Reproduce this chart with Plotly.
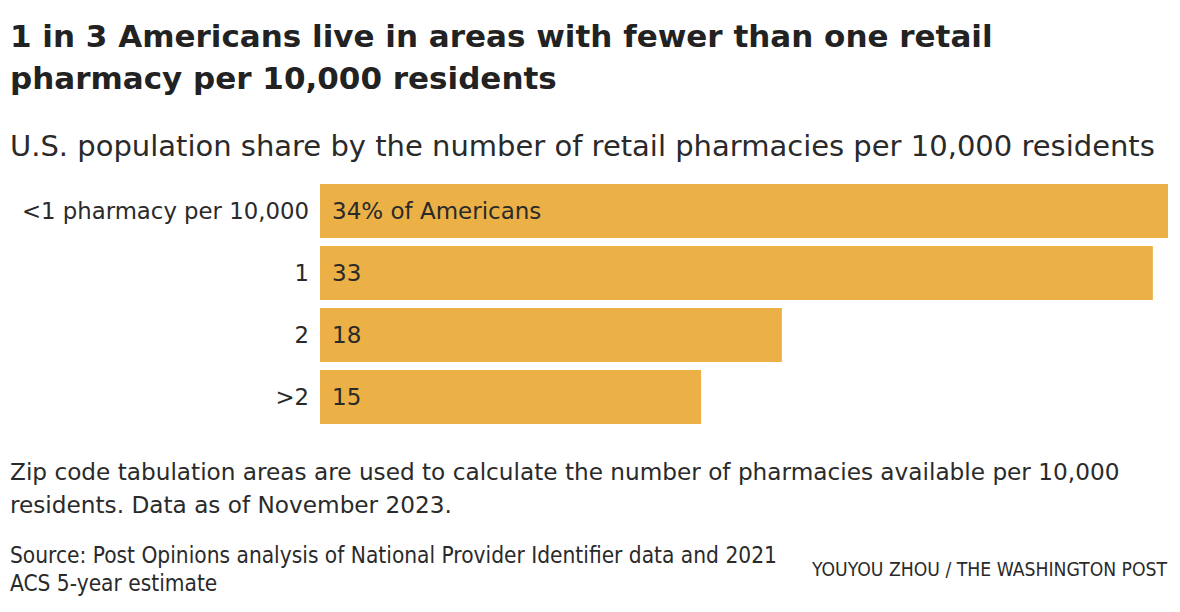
import plotly.graph_objects as go

categories = ["<1 pharmacy per 10,000", "1", "2", ">2"]
shares = [33.6, 33.0, 18.3, 15.1]
bar_labels = ["34% of Americans", "33", "18", "15"]

title_lines = ["1 in 3 Americans live in areas with fewer than one retail",
               "pharmacy per 10,000 residents"]
subtitle = "U.S. population share by the number of retail pharmacies per 10,000 residents"
note_lines = ["Zip code tabulation areas are used to calculate the number of pharmacies available per 10,000",
              "residents. Data as of November 2023."]
source_lines = ["Source: Post Opinions analysis of National Provider Identifier data and 2021",
                "ACS 5-year estimate"]
credit = "YOUYOU ZHOU / THE WASHINGTON POST"

W, H = 1180, 612
PT, PB = 180, 428  # plot area top/bottom in px
ML, MR = 320, 12

def py(p):
    return (PB - p) / (PB - PT)

def px(p):
    return (p - ML) / (W - ML - MR)

TXT = "#2a2a2a"
F = "DejaVu Sans"
FC = "DejaVu Sans Condensed"
fig = go.Figure()
fig.add_trace(go.Bar(
    x=shares, y=categories, orientation="h",
    marker=dict(color="#ebb146", line=dict(width=0)),
    hoverinfo="skip",
))

ann = []
for i, (c, lab) in enumerate(zip(categories, bar_labels)):
    ann.append(dict(x=0, y=c, xref="x", yref="y", text=lab, showarrow=False,
                    xanchor="left", yanchor="middle", xshift=10,
                    font=dict(family=F, size=23, color=TXT)))

for i, t in enumerate(title_lines):
    ann.append(dict(x=px(8), y=py(36 + 42 * i), xref="paper", yref="paper", text=f"<b>{t}</b>",
                    showarrow=False, xanchor="left", yanchor="middle",
                    font=dict(family=F, size=31, color="#222")))
ann.append(dict(x=px(8), y=py(146), xref="paper", yref="paper", text=subtitle,
                showarrow=False, xanchor="left", yanchor="middle",
                font=dict(family=F, size=29, color=TXT)))
for i, t in enumerate(note_lines):
    ann.append(dict(x=px(8), y=py(471 + 33 * i), xref="paper", yref="paper", text=t,
                    showarrow=False, xanchor="left", yanchor="middle",
                    font=dict(family=F, size=23.2, color=TXT)))
for i, t in enumerate(source_lines):
    ann.append(dict(x=px(8), y=py(555 + 28 * i), xref="paper", yref="paper", text=t,
                    showarrow=False, xanchor="left", yanchor="middle",
                    font=dict(family=FC, size=22.5, color=TXT)))
ann.append(dict(x=px(1170), y=py(569), xref="paper", yref="paper", text=credit,
                showarrow=False, xanchor="right", yanchor="middle",
                font=dict(family=FC, size=19.2, color=TXT)))

fig.update_layout(
    width=W, height=H,
    margin=dict(l=ML, r=MR, t=PT, b=H - PB, pad=0),
    paper_bgcolor="white", plot_bgcolor="white",
    bargap=0.129,
    showlegend=False,
    xaxis=dict(range=[0, shares[0]], visible=False, fixedrange=True),
    yaxis=dict(categoryorder="array", categoryarray=categories, autorange="reversed",
               showgrid=False, zeroline=False, showline=False, ticks="",
               ticklabelstandoff=10,
               tickfont=dict(family=F, size=22.8, color=TXT), fixedrange=True),
    annotations=ann,
)
fig.write_html("out.html", config=dict(displayModeBar=False))
